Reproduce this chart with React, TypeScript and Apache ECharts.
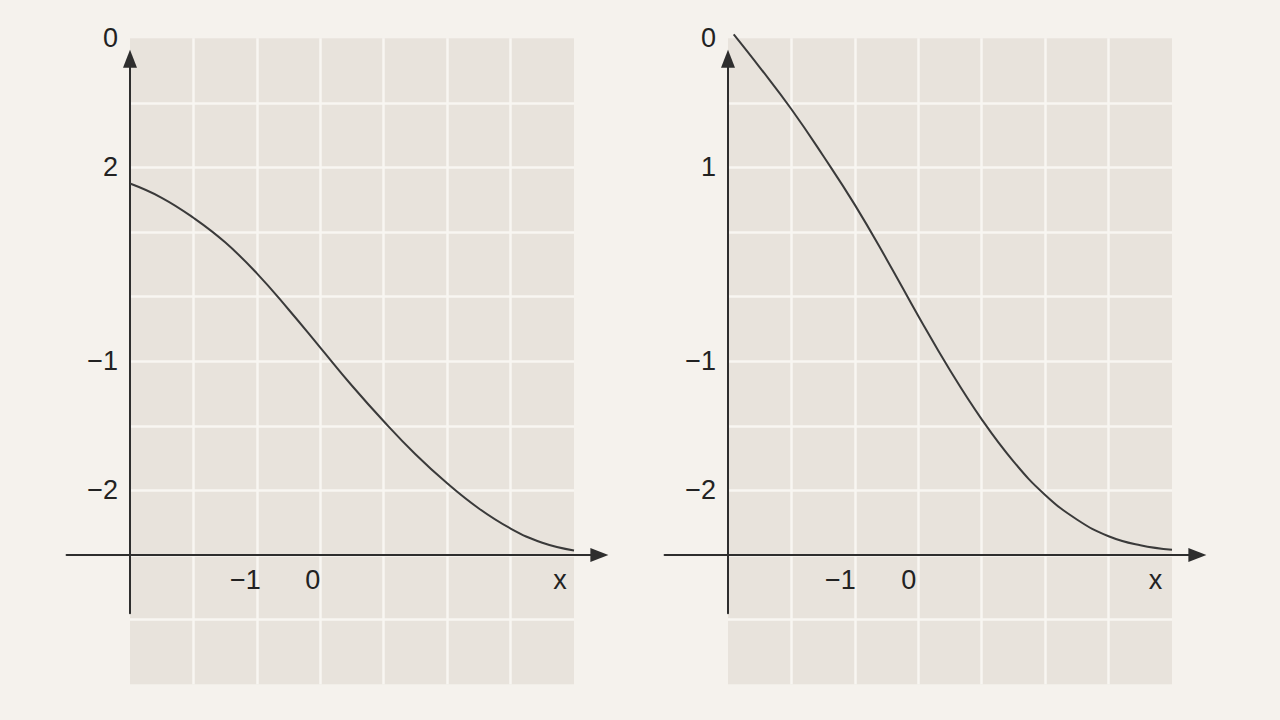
import React, { useEffect, useRef } from "react";
import * as echarts from "echarts";

// ---- data (grid units: one cell = 1) ----
const leftCurveX = [0, 0.5, 1, 1.5, 2, 2.5, 3, 3.5, 4, 4.5, 5, 5.5, 6, 6.5, 7];
const leftCurveY = [5.75, 5.53, 5.22, 4.84, 4.36, 3.8, 3.21, 2.62, 2.07, 1.56, 1.11, 0.72, 0.41, 0.19, 0.07];
const rightCurveX = [0.09, 0.5, 1, 1.5, 2, 2.5, 3, 3.5, 4, 4.5, 5, 5.5, 6, 6.5, 7];
const rightCurveY = [8.06, 7.55, 6.9, 6.18, 5.42, 4.58, 3.7, 2.86, 2.1, 1.45, 0.93, 0.55, 0.29, 0.15, 0.08];

const yTickValues = [8, 6, 3, 1];
const leftYTickLabels = ["0", "2", "\u22121", "\u22122"];
const rightYTickLabels = ["0", "1", "\u22121", "\u22122"];

const leftXTickValues = [1.82, 2.88, 6.78];
const rightXTickValues = [1.77, 2.85, 6.74];
const xTickLabels = ["\u22121", "0", "x"];

const gridXRange = [0, 7];
const gridYRange = [-2, 8];
const axisXRange = [-1, 7.4];
const axisYRange = [-0.9, 7.68];

// ---- layout / style ----
const PANEL_LEFT = [130, 728];
const UX = 63.43;
const UY = 64.6;
const Y0 = 555;
const FONT = "'Liberation Sans', Arial, Helvetica, sans-serif";
const INK = "#222222";
const BG = "#f5f2ed";
const CELL = "#e8e3dc";
const GRIDLINE = "#f8f6f2";
const LABEL_SIZE = 27;

function buildOption() {
  const grids: any[] = [];
  const xAxes: any[] = [];
  const yAxes: any[] = [];
  const series: any[] = [];

  const panels = [
    { left: PANEL_LEFT[0], xs: leftCurveX, ys: leftCurveY, yLabels: leftYTickLabels, xTicks: leftXTickValues },
    { left: PANEL_LEFT[1], xs: rightCurveX, ys: rightCurveY, yLabels: rightYTickLabels, xTicks: rightXTickValues },
  ];

  panels.forEach((p) => {
    const gA = grids.length;
    // grey cell area with white grid, curve and tick labels
    grids.push({
      left: p.left,
      top: Y0 - gridYRange[1] * UY,
      width: (gridXRange[1] - gridXRange[0]) * UX,
      height: (gridYRange[1] - gridYRange[0]) * UY,
      show: true,
      backgroundColor: CELL,
      borderWidth: 0,
      containLabel: false,
      outerBoundsMode: "none",
    });
    xAxes.push({
      type: "value",
      gridIndex: gA,
      min: gridXRange[0],
      max: gridXRange[1],
      interval: 1,
      position: "bottom",
      offset: gridYRange[0] * UY,
      axisLine: { show: false, onZero: false },
      axisTick: { show: false },
      axisLabel: {
        show: true,
        customValues: p.xTicks,
        margin: 11,
        fontSize: LABEL_SIZE,
        fontFamily: FONT,
        color: INK,
        showMinLabel: true,
        showMaxLabel: true,
        formatter: (v: number) => {
          const k = p.xTicks.findIndex((t) => Math.abs(t - v) < 1e-6);
          return k >= 0 ? xTickLabels[k] : "";
        },
      },
      splitLine: { show: true, showMinLine: false, showMaxLine: false, lineStyle: { color: GRIDLINE, width: 2.5 } },
    });
    yAxes.push({
      type: "value",
      gridIndex: gA,
      min: gridYRange[0],
      max: gridYRange[1],
      interval: 1,
      axisLine: { show: false, onZero: false },
      axisTick: { show: false },
      axisLabel: {
        show: true,
        margin: 12,
        fontSize: LABEL_SIZE,
        fontFamily: FONT,
        color: INK,
        showMinLabel: true,
        showMaxLabel: true,
        formatter: (v: number) => {
          const k = yTickValues.findIndex((t) => Math.abs(t - v) < 1e-6);
          return k >= 0 ? p.yLabels[k] : "";
        },
      },
      splitLine: { show: true, showMinLine: false, showMaxLine: false, lineStyle: { color: GRIDLINE, width: 2.5 } },
    });
    series.push({
      type: "line",
      xAxisIndex: gA,
      yAxisIndex: gA,
      data: p.xs.map((x, k) => [x, p.ys[k]]),
      smooth: 0.45,
      showSymbol: false,
      symbol: "none",
      clip: false,
      lineStyle: { color: "#3a3a3a", width: 2 },
      z: 3,
    });

    // black axes with arrow heads
    const gB = grids.length;
    grids.push({
      left: p.left + axisXRange[0] * UX,
      top: Y0 - axisYRange[1] * UY,
      width: (axisXRange[1] - axisXRange[0]) * UX,
      height: (axisYRange[1] - axisYRange[0]) * UY,
      show: false,
      containLabel: false,
      outerBoundsMode: "none",
    });
    const axisLine = {
      show: true,
      onZero: true,
      symbol: ["none", "triangle"],
      symbolSize: [14, 18],
      lineStyle: { color: "#2e2e2e", width: 2 },
    };
    xAxes.push({
      type: "value",
      gridIndex: gB,
      min: axisXRange[0],
      max: axisXRange[1],
      axisLine,
      axisTick: { show: false },
      splitLine: { show: false },
      axisLabel: { show: false },
    });
    yAxes.push({
      type: "value",
      gridIndex: gB,
      min: axisYRange[0],
      max: axisYRange[1],
      axisLine,
      axisTick: { show: false },
      splitLine: { show: false },
      axisLabel: { show: false },
    });
  });

  return {
    animation: false,
    backgroundColor: BG,
    grid: grids,
    xAxis: xAxes,
    yAxis: yAxes,
    series,
  };
}

export default function App() {
  const ref = useRef<HTMLDivElement>(null);
  useEffect(() => {
    if (!ref.current) return;
    const chart = echarts.init(ref.current, undefined, { renderer: "svg" });
    chart.setOption(buildOption() as any);
    return () => chart.dispose();
  }, []);
  return (
    <div
      ref={ref}
      style={{ position: "fixed", left: 0, top: 0, width: 1280, height: 720, background: BG }}
    />
  );
}
